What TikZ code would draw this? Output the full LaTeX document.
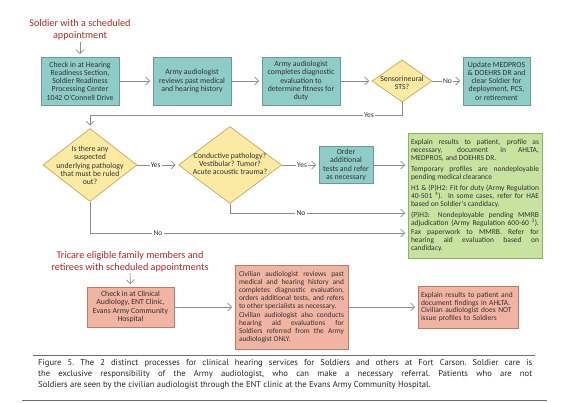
\documentclass[tikz,border=0pt]{standalone}
\usepackage{fontspec}
\setmainfont{Carlito}
\newfontfamily\capfont{PT Sans}
\usetikzlibrary{arrows.meta,shapes.geometric,calc}
\definecolor{tealfill}{RGB}{142,204,200}
\definecolor{tealline}{RGB}{112,150,150}
\definecolor{yelfill}{RGB}{250,234,162}
\definecolor{yelline}{RGB}{196,178,110}
\definecolor{grnfill}{RGB}{200,226,160}
\definecolor{grnline}{RGB}{140,178,100}
\definecolor{pnkfill}{RGB}{242,180,162}
\definecolor{pnkline}{RGB}{188,122,104}
\definecolor{hdrred}{RGB}{178,40,40}
\definecolor{txt}{RGB}{50,50,50}
\definecolor{lin}{RGB}{140,140,140}
\definecolor{rulec}{RGB}{110,110,110}
\tikzset{
  base/.style={font=\fontsize{7.8}{8.3}\selectfont, text=txt, line width=0.8pt, inner sep=2pt},
  tbox/.style={base, draw=tealline, fill=tealfill, align=center},
  pbox/.style={base, draw=pnkline, fill=pnkfill},
  gbox/.style={base, draw=grnline, fill=grnfill},
  dia/.style={diamond, draw=yelline, fill=yelfill, line width=0.8pt, inner sep=0pt},
  diatext/.style={base, align=center},
  hdr/.style={font=\fontsize{10.2}{12}\selectfont, text=hdrred, align=center, inner sep=1pt},
  arr/.style={draw=lin, line width=0.7pt, -{Straight Barb[length=4pt,width=8pt,line width=0.7pt]}, shorten >=2.5pt},
  lbl/.style={fill=white, inner sep=1.2pt, font=\fontsize{7.5}{8}\selectfont, text=txt},
  rulel/.style={draw=rulec, line width=0.9pt}
}
\begin{document}
\begin{tikzpicture}[x=1pt,y=-1pt]
\useasboundingbox[fill=white] (0,0) rectangle (564,402);

% Soldier path
\node[hdr] (h1) at (80,30) {Soldier with a scheduled\\appointment};
\node[tbox, minimum width=78pt, minimum height=48pt] (b1) at (80,81)
  {Check in at Hearing\\Readiness Section,\\Soldier Readiness\\Processing Center\\1042 O'Connell Drive};
\node[tbox, minimum width=78pt, minimum height=48pt] (b2) at (192,81)
  {Army audiologist\\reviews past medical\\and hearing history};
\node[tbox, minimum width=78pt, minimum height=48pt] (b3) at (301,81)
  {Army audiologist\\completes diagnostic\\evaluation to\\determine fitness for\\duty};
\node[dia, minimum width=60pt, minimum height=42pt] (sts) at (402,81) {};
\node[diatext] (ststx) at (402,83) {Sensorineural\\STS?};
\node[tbox, minimum width=67pt, minimum height=48pt] (b4) at (496.5,81)
  {Update MEDPROS\\\& DOEHRS DR and\\clear Soldier for\\deployment, PCS,\\or retirement};

\node[dia, minimum width=94pt, minimum height=73pt] (d2) at (90,165) {};
\node[diatext] (d2tx) at (90,165.5) {Is there any\\suspected\\underlying pathology\\that must be ruled\\out?};
\node[dia, minimum width=103pt, minimum height=77pt] (d3) at (230,165) {};
\node[diatext] (d3tx) at (230,164) {Conductive pathology?\\Vestibular? Tumor?\\Acute acoustic trauma?};
\node[tbox, minimum width=54pt, minimum height=37pt] (ord) at (346,165)
  {Order\\additional\\tests and refer\\as necessary};

\node[gbox, minimum width=134pt, minimum height=125pt, text width=128pt, align=justify,
      font=\fontsize{7.5}{8.3}\selectfont] (grn) at (475,195.5)
  {Explain results to patient, profile as\linebreak necessary, document in AHLTA,\linebreak MEDPROS, and DOEHRS DR.\\[2.3pt]
   Temporary profiles are nondeployable\linebreak pending medical clearance\\[2.3pt]
   H1 \& (P)H2: Fit for duty (Army Regulation\linebreak 40-501 \textsuperscript{4}). In some cases, refer for HAE\linebreak based on Soldier's candidacy.\\[2.3pt]
   (P)H3: Nondeployable pending MMRB\linebreak adjudication (Army Regulation 600-60 \textsuperscript{3}).\linebreak Fax paperwork to MMRB. Refer for\linebreak hearing aid evaluation based on\linebreak candidacy.};

\coordinate (yesturn) at (90,115);
\coordinate (d3no) at (230,213);
\coordinate (d2no) at (90,233);

\draw[arr] (h1.south) -- (b1.north);
\draw[arr] (b1.east) -- (b2.west);
\draw[arr] (b2.east) -- (b3.west);
\draw[arr] (b3.east) -- (sts.west);
\draw[arr] (sts.east) -- node[lbl, pos=0.5] {No} (b4.west);
\draw[arr] (sts.south) |- node[lbl, pos=0.553] {Yes} (yesturn) -- (d2.north);
\draw[arr] (d2.east) -- node[lbl, pos=0.45] {Yes} (d3.west);
\draw[arr] (d3.east) -- node[lbl, pos=0.55] {Yes} (ord.west);
\draw[arr] (ord.east) -- (grn.west |- ord.east);
\draw[arr] (d3.south) |- node[lbl, pos=0.70] {No} (grn.west |- d3no);
\draw[arr] (d2.south) |- node[lbl, pos=0.607] {No} (grn.west |- d2no);

% Tricare path
\node[hdr] (h2) at (130,261.5) {Tricare eligible family members and\\retirees with scheduled appointments};
\node[pbox, align=center, minimum width=87pt, minimum height=40pt] (p1) at (130.5,307)
  {Check in at Clinical\\Audiology, ENT Clinic,\\Evans Army Community\\Hospital};
\node[pbox, minimum width=113pt, minimum height=84pt, text width=105pt, align=justify,
      font=\fontsize{7.4}{8.1}\selectfont] (p2) at (291.5,307)
  {Civilian audiologist reviews past\linebreak medical and hearing history and\linebreak completes diagnostic evaluation,\linebreak orders additional tests, and refers\linebreak to other specialists as necessary.\\
   Civilian audiologist also conducts\linebreak hearing aid evaluations for\linebreak Soldiers referred from the Army\linebreak audiologist ONLY.};
\node[pbox, minimum width=100pt, minimum height=42pt, text width=94pt, align=left,
      font=\fontsize{7.5}{7.8}\selectfont] (p3) at (468,307)
  {Explain results to patient and\\document findings in AHLTA.\\Civilian audiologist does NOT\\issue profiles to Soldiers};

\draw[arr] (h2.south) -- (p1.north);
\draw[arr] (p1.east) -- (p2.west);
\draw[arr] (p2.east) -- (p3.west);

% caption
\draw[rulel] (33,355) -- (535,355);
\node[anchor=north west, inner sep=0pt, text width=494pt, align=justify,
      font=\capfont\fontsize{8.6}{10.8}\selectfont\frenchspacing, text=black!85] (cap) at (38,359.5)
  {Figure 5. The 2 distinct processes for clinical hearing services for Soldiers and others at Fort Carson. Soldier care is\linebreak
   the exclusive responsibility of the Army audiologist, who can make a necessary referral. Patients who are not\linebreak
   Soldiers are seen by the civilian audiologist through the ENT clinic at the Evans Army Community Hospital.};
\draw[rulel] (22,400) -- (547,400);
\end{tikzpicture}
\end{document}
